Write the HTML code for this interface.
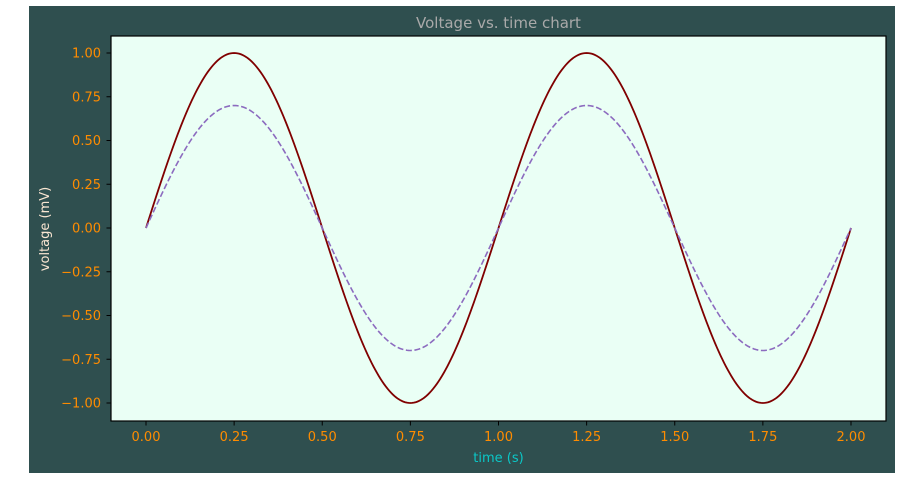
<!DOCTYPE html>
<html><head><meta charset="utf-8"><style>
html,body{margin:0;padding:0;background:#fff;}
svg{display:block;font-family:"DejaVu Sans","Liberation Sans",sans-serif;}
</style></head><body>
<svg id="chart" width="907" height="479" xmlns="http://www.w3.org/2000/svg">
<rect x="29" y="6" width="866" height="467" fill="#2f4f4f"/>
<rect x="111" y="36" width="775" height="385" fill="#eafff5"/>
<g id="grid"></g>
<g id="series"></g>
<rect x="111" y="36" width="775" height="385" fill="none" stroke="#000" stroke-width="1.2"/>
<g id="xticks"></g><g id="yticks"></g>
<text x="498.5" y="28" text-anchor="middle" font-size="15" fill="#a9a9a9">Voltage vs. time chart</text>
<text x="498.5" y="462" text-anchor="middle" font-size="13" fill="#0bc7c7">time (s)</text>
<text transform="translate(49,229) rotate(-90)" text-anchor="middle" font-size="13" fill="#fae6d2">voltage (mV)</text>
</svg>
<script>
const xTicks=[0,0.25,0.5,0.75,1.0,1.25,1.5,1.75,2.0];
const yTicks=[-1,-0.75,-0.5,-0.25,0,0.25,0.5,0.75,1];
const signalAmplitude=[1.0];
const dashedAmplitude=[0.7];
const frequency=[1.0];
const tMax=[2.0];
const NS='http://www.w3.org/2000/svg';
const xs=v=>146+v*352.5;
const ys=v=>228-v*175;
function mk(tag,attrs,parent){const e=document.createElementNS(NS,tag);for(const k in attrs)e.setAttribute(k,attrs[k]);parent.appendChild(e);return e;}
const gx=document.getElementById('xticks'),gy=document.getElementById('yticks'),gs=document.getElementById('series');
xTicks.forEach(v=>{
  const l=mk('line',{x1:xs(v),x2:xs(v),y1:421,y2:425.5,stroke:'#000','stroke-width':1},gx);
  
  
  const t=mk('text',{x:xs(v),y:441,'text-anchor':'middle','font-size':13,fill:'#ff8c00'},gx);
  t.textContent=v.toFixed(2);
  
  
});
yTicks.forEach(v=>{
  const l=mk('line',{x1:106.5,x2:111,y1:ys(v),y2:ys(v),stroke:'#000','stroke-width':1},gy);
  
  
  const t=mk('text',{x:101,y:ys(v)+4.5,'text-anchor':'end','font-size':13,fill:'#ff8c00'},gy);
  t.textContent=(v<0?'\u2212':'')+Math.abs(v).toFixed(2);
  
  
});
function curve(a){let d='';const n=400;for(let i=0;i<=n;i++){const t=tMax[0]*i/n;d+=(i?'L':'M')+xs(t).toFixed(2)+','+ys(a*Math.sin(2*Math.PI*frequency[0]*t)).toFixed(2);}return d;}
const p1=mk('path',{d:curve(signalAmplitude[0]),fill:'none',stroke:'#800000','stroke-width':1.8},gs);


const p2=mk('path',{d:curve(dashedAmplitude[0]),fill:'none',stroke:'#8c6bbf','stroke-width':1.6,'stroke-dasharray':'6,2.6'},gs);


</script>
</body></html>
